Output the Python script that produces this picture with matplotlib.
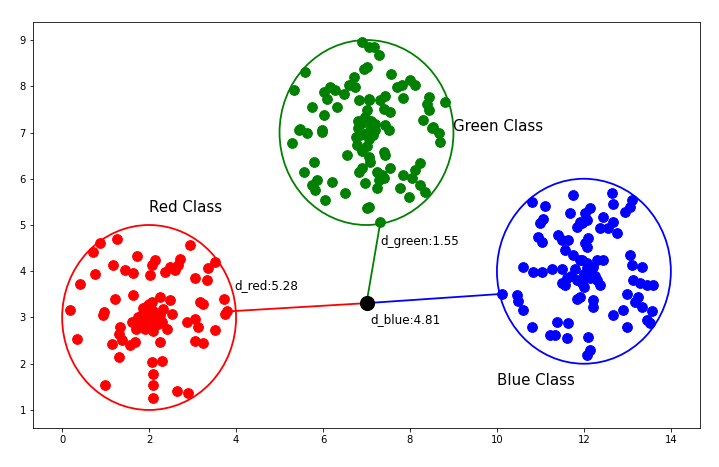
import numpy as np
import matplotlib
matplotlib.use("Agg")
import matplotlib.pyplot as plt
from matplotlib.patches import Circle

red_x = [1.26, 0.87, 0.72, 1.72, 1.18, 1.45, 1.62, 0.76, 0.41, 1.22, 1.62, 0.18, 0.97, 2.06, 2.02,
         2.94, 2.14, 2.48, 2.37, 2.71, 2.67, 2.60, 3.52, 3.36, 3.33, 3.06, 3.73, 3.79, 3.17, 3.25,
         2.25, 2.48, 2.06, 1.98, 2.33, 2.52, 0.95, 1.33, 1.30, 0.34, 1.14, 1.37, 1.56, 1.68, 1.30,
         2.06, 2.10, 2.10, 2.10, 0.99, 2.87, 3.06, 3.13, 3.52, 3.75, 3.06, 3.25, 2.25, 2.29, 2.64,
         2.90, 2.41, 1.98,
         1.75, 1.85, 1.90, 2.00, 2.05, 2.10, 2.15, 1.80, 1.95, 2.20, 1.70, 2.25, 1.90, 2.10, 1.60,
         2.30, 2.00, 1.85]
red_y = [4.70, 4.62, 4.42, 4.34, 4.13, 4.02, 3.97, 3.93, 3.73, 3.41, 3.48, 3.16, 3.12, 4.13, 3.91,
         4.57, 4.24, 4.09, 3.98, 4.27, 4.13, 4.02, 4.20, 4.06, 3.80, 3.85, 3.39, 3.13, 3.34, 3.30,
         3.44, 3.37, 3.34, 3.16, 3.19, 3.08, 3.05, 2.79, 2.65, 2.53, 2.43, 2.51, 2.40, 2.47, 2.15,
         2.04, 1.77, 1.53, 1.26, 1.53, 2.90, 2.97, 2.79, 2.72, 3.08, 2.49, 2.45, 2.46, 2.05, 1.40,
         1.37, 2.76, 2.79,
         3.00, 3.10, 2.95, 3.05, 2.90, 3.15, 3.00, 2.85, 3.25, 2.85, 2.75, 3.05, 2.75, 2.70, 2.90,
         2.90, 3.30, 3.20]

green_x = [6.90, 7.05, 5.59, 5.33, 6.02, 6.17, 6.28, 6.09, 6.48, 6.71, 6.59, 6.74, 5.75, 6.02, 6.32,
           6.82, 7.05, 5.48, 5.98, 7.17, 7.28, 7.01, 6.94, 7.57, 8.01, 7.82, 8.12, 7.70, 7.85, 7.43,
           7.32, 7.40, 7.55, 7.05, 7.01, 6.97, 8.43, 8.39, 8.43, 8.81, 8.31, 8.54, 7.20, 7.43, 7.51,
           5.44, 5.63, 5.98, 5.29, 6.55, 5.79, 5.56, 5.86, 5.75, 5.82, 6.21, 6.05, 6.51, 6.82, 6.97,
           7.01, 6.78, 8.51, 8.66, 8.70, 7.40, 7.43, 7.05, 7.09, 7.55, 7.24, 7.36, 7.28, 7.40, 6.90,
           8.24, 8.12, 7.85, 8.05, 8.24, 8.35, 7.78, 7.97, 7.24, 7.05, 7.32,
           6.80, 6.90, 7.00, 7.10, 6.85, 7.05, 6.95, 7.15, 6.75, 7.00, 6.90, 7.10, 6.80, 7.20]
green_y = [8.96, 8.85, 8.31, 7.91, 7.88, 7.98, 7.91, 7.73, 7.84, 8.20, 8.02, 7.98, 7.55, 7.37, 7.55,
           7.70, 7.70, 7.08, 7.05, 8.85, 8.67, 8.42, 8.38, 8.27, 8.13, 8.02, 8.02, 7.98, 7.75, 7.80,
           7.70, 7.51, 7.44, 7.73, 7.48, 7.34, 7.77, 7.62, 7.48, 7.66, 7.26, 7.12, 7.19, 7.16, 7.05,
           7.05, 6.98, 7.02, 6.77, 6.51, 6.37, 6.15, 5.97, 5.86, 5.76, 5.94, 5.54, 5.69, 6.15, 5.90,
           5.36, 6.73, 7.09, 6.98, 6.80, 6.58, 6.51, 6.48, 6.37, 6.23, 6.15, 6.08, 5.97, 6.01, 6.23,
           6.33, 6.19, 6.08, 6.01, 5.86, 5.72, 5.79, 5.61, 5.79, 5.40, 5.07,
           7.10, 7.20, 7.00, 7.10, 6.95, 6.85, 7.30, 6.95, 6.90, 6.70, 6.60, 7.25, 7.25, 7.05]

blue_x = [10.80, 11.10, 11.75, 11.68, 11.06, 10.99, 12.02, 11.91, 11.83, 10.95, 11.03, 11.41, 11.49,
          11.64, 11.56, 11.75, 11.91, 12.06, 10.60, 10.83, 11.03, 11.26, 11.49,
          12.64, 12.67, 13.10, 13.06, 12.94, 12.14, 12.06, 11.95, 12.44, 12.37, 12.56, 12.67, 12.75,
          12.10, 12.02, 12.06, 13.06, 13.10, 13.33, 12.29, 12.44, 11.95, 12.06,
          11.56, 11.49, 10.11, 10.45, 10.49, 10.60, 11.83, 10.80, 11.37, 11.64, 11.22, 11.33, 11.60,
          12.10, 12.06, 12.14,
          13.13, 13.29, 13.44, 13.59, 12.37, 12.21, 12.21, 12.98, 13.25, 13.17, 13.33, 12.90, 12.67,
          13.56, 13.44, 13.52, 12.98, 11.91,
          11.70, 11.85, 12.00, 12.15, 11.95, 12.25, 12.10, 11.80, 12.30, 11.60, 12.00, 12.20]
blue_y = [5.50, 5.41, 5.65, 5.25, 5.14, 5.04, 5.25, 5.07, 4.96, 4.75, 4.64, 4.78, 4.68,
          4.68, 4.46, 4.35, 4.24, 4.17, 4.09, 3.99, 3.99, 4.04, 4.04,
          5.70, 5.45, 5.54, 5.40, 5.29, 5.36, 5.11, 5.04, 5.18, 4.93, 4.93, 5.07, 4.82,
          4.71, 4.60, 4.53, 4.35, 4.14, 4.09, 4.24, 4.24, 4.24, 4.06,
          3.70, 3.74, 3.51, 3.49, 3.36, 3.16, 3.39, 2.79, 2.91, 2.89, 2.62, 2.62, 2.55,
          2.58, 2.19, 2.30,
          3.81, 3.74, 3.70, 3.70, 3.70, 3.38, 3.23, 3.51, 3.45, 3.34, 3.22, 3.16, 3.05,
          3.13, 2.95, 2.87, 2.79, 3.45,
          3.90, 3.80, 3.95, 3.85, 3.75, 3.90, 4.00, 4.05, 3.80, 3.85, 3.65, 4.10]

class_centers = {"red": (2, 3), "green": (7, 7), "blue": (12, 4)}
class_radius = 2
class_names = {"red": "Red Class", "green": "Green Class", "blue": "Blue Class"}
class_label_pos = {"red": (2.0, 5.37), "green": (9.0, 7.14), "blue": (10.0, 1.63)}

query_point = (7.0, 3.31)
dist_labels = {"red": "d_red:5.28", "green": "d_green:1.55", "blue": "d_blue:4.81"}
dist_label_pos = {"red": (3.95, 3.70), "green": (7.31, 4.65), "blue": (7.10, 2.95)}

x_ticks = [0, 2, 4, 6, 8, 10, 12, 14]
y_ticks = [1, 2, 3, 4, 5, 6, 7, 8, 9]

fig = plt.figure(figsize=(719 / 72, 467 / 72), dpi=72)
ax = fig.add_axes([33 / 719, 1 - 428 / 467, 667 / 719, 406 / 467])

data = {"red": (red_x, red_y), "green": (green_x, green_y), "blue": (blue_x, blue_y)}
for c, (xs, ys) in data.items():
    ax.scatter(xs, ys, s=95, color=c, zorder=2)
    ax.add_patch(Circle(class_centers[c], class_radius, fill=False, edgecolor=c, lw=1.8, zorder=3))
    ax.text(*class_label_pos[c], class_names[c], fontsize=15, va="center", ha="left")
    xs_a, ys_a = np.array(xs), np.array(ys)
    d = np.hypot(xs_a - query_point[0], ys_a - query_point[1])
    i = int(np.argmin(d))
    ax.plot([query_point[0], xs_a[i]], [query_point[1], ys_a[i]], color=c, lw=1.8, zorder=3)
    ax.text(*dist_label_pos[c], dist_labels[c], fontsize=12, va="center", ha="left")

ax.scatter([query_point[0]], [query_point[1]], s=200, color="black", zorder=4)

ax.set_xlim(-0.67, 14.67)
ax.set_ylim(0.61, 9.39)
ax.set_xticks(x_ticks)
ax.set_yticks(y_ticks)
ax.tick_params(labelsize=10)

fig.savefig("out.png", dpi=72)
